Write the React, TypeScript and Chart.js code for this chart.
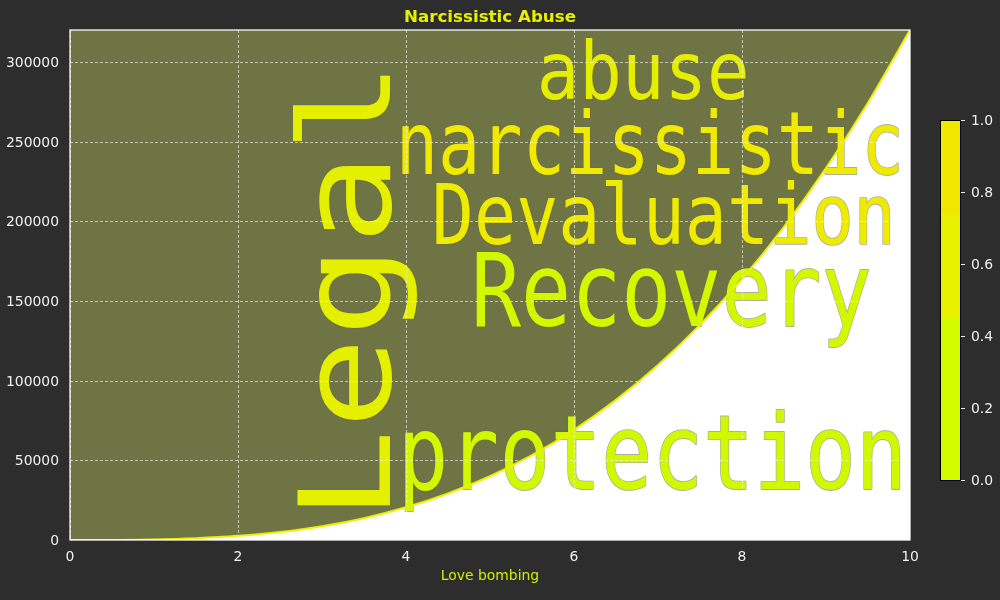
import React, { useEffect, useRef } from "react";
import { Chart, registerables } from "chart.js";

Chart.register(...registerables);

// ---- data ----
const xValues = [0, 0.5, 1, 1.5, 2, 2.5, 3, 3.5, 4, 4.5, 5, 5.5, 6, 6.5, 7, 7.5, 8, 8.5, 9, 9.5, 10];
const yValues = [0, 0, 300, 1100, 2600, 5000, 8600, 13700, 20500, 29200, 40000, 53200, 69100, 87900, 109800, 135000, 163800, 196500, 233300, 274400, 320000];
const xTicks = [0, 2, 4, 6, 8, 10];
const yTicks = [0, 50000, 100000, 150000, 200000, 250000, 300000];
const cbarTicks = [0, 0.2, 0.4, 0.6, 0.8, 1.0];
const cbarBounds = [0, 0.45, 0.742, 1.0];
const cloudWords = ["abuse", "narcissistic", "Devaluation", "Recovery", "protection", "Legal"];

const titleText = "Narcissistic Abuse";
const xLabelText = "Love bombing";

// ---- styles / layout ----
const cbarColors = ["#d2fa00", "#e6f000", "#f0e600"];
const wordColors = ["#e6ee00", "#f0ea00", "#eeeb00", "#d2f800", "#d0f800", "#e4f000"];
const wordLayout = [
  { left: 541, top: 38, right: 746, bottom: 101, rotated: false },
  { left: 402, top: 108, right: 898, bottom: 175, rotated: false },
  { left: 436, top: 180, right: 890, bottom: 245, rotated: false },
  { left: 476, top: 250, right: 869, bottom: 347, rotated: false },
  { left: 405, top: 410, right: 900, bottom: 511, rotated: false },
  { left: 293, top: 75, right: 418, bottom: 506, rotated: true },
];
const BG = "#2d2d2d";
const OLIVE = "#6f7444";
const TEXT = "#f0f0f0";
const FONT = '"DejaVu Sans", sans-serif';

function drawWord(ctx: CanvasRenderingContext2D, text: string, box: any, color: string) {
  ctx.save();
  ctx.font = '100px "DejaVu Sans Mono", monospace';
  ctx.textAlign = "left";
  ctx.textBaseline = "alphabetic";
  const m = ctx.measureText(text);
  const inkW = m.actualBoundingBoxLeft + m.actualBoundingBoxRight;
  const inkH = m.actualBoundingBoxAscent + m.actualBoundingBoxDescent;
  let sx: number, sy: number;
  if (!box.rotated) {
    sx = (box.right - box.left) / inkW;
    sy = (box.bottom - box.top) / inkH;
    ctx.translate(box.left, box.top);
  } else {
    sx = (box.bottom - box.top) / inkW;
    sy = (box.right - box.left) / inkH;
    ctx.translate(box.left, box.bottom);
    ctx.rotate(-Math.PI / 2);
  }
  ctx.scale(sx, sy);
  const avg = (sx + sy) / 2;
  ctx.lineJoin = "round";
  ctx.strokeStyle = "rgba(110,110,70,0.55)";
  ctx.lineWidth = 1.6 / avg;
  ctx.strokeText(text, m.actualBoundingBoxLeft, m.actualBoundingBoxAscent);
  ctx.fillStyle = color;
  ctx.fillText(text, m.actualBoundingBoxLeft, m.actualBoundingBoxAscent);
  ctx.restore();
}

const cloudPlugin = {
  id: "cloud",
  beforeDraw(chart: any) {
    const { ctx, chartArea: a } = chart;
    ctx.save();
    ctx.fillStyle = BG;
    ctx.fillRect(0, 0, chart.width, chart.height);
    ctx.fillStyle = OLIVE;
    ctx.fillRect(a.left, a.top, a.right - a.left, a.bottom - a.top);
    ctx.restore();
  },
  beforeDatasetDraw(chart: any) {
    const { ctx, chartArea: a, scales } = chart;
    ctx.save();
    ctx.beginPath();
    ctx.rect(a.left, a.top, a.right - a.left, a.bottom - a.top);
    ctx.clip();
    cloudWords.forEach((w, i) => drawWord(ctx, w, wordLayout[i], wordColors[i]));
    // grid
    ctx.strokeStyle = "rgba(255,255,255,0.85)";
    ctx.lineWidth = 0.7;
    ctx.setLineDash([3, 2]);
    xTicks.forEach((v) => {
      const px = Math.round(scales.x.getPixelForValue(v)) + 0.5;
      ctx.beginPath();
      ctx.moveTo(px, a.top);
      ctx.lineTo(px, a.bottom);
      ctx.stroke();
    });
    yTicks.forEach((v) => {
      const py = Math.round(scales.y.getPixelForValue(v)) + 0.5;
      ctx.beginPath();
      ctx.moveTo(a.left, py);
      ctx.lineTo(a.right, py);
      ctx.stroke();
    });
    ctx.restore();
  },
  afterDraw(chart: any) {
    const { ctx, chartArea: a } = chart;
    ctx.save();
    // spines
    ctx.strokeStyle = "#ffffff";
    ctx.lineWidth = 1.25;
    ctx.strokeRect(a.left, a.top, a.right - a.left, a.bottom - a.top);
    // title
    const cx = (a.left + a.right) / 2;
    ctx.fillStyle = "#e6f000";
    ctx.font = "bold 16.7px " + FONT;
    ctx.textAlign = "center";
    ctx.textBaseline = "alphabetic";
    ctx.fillText(titleText, cx, 22);
    // x label
    ctx.fillStyle = "#d4ec00";
    ctx.font = "13.9px " + FONT;
    ctx.fillText(xLabelText, cx, 580);
    // colorbar
    const cbL = 940, cbR = 960, cbT = 120, cbB = 480;
    const vy = (v: number) => Math.round(cbB - v * (cbB - cbT));
    for (let i = 0; i < cbarColors.length; i++) {
      ctx.fillStyle = cbarColors[i];
      ctx.fillRect(cbL, vy(cbarBounds[i + 1]), cbR - cbL, vy(cbarBounds[i]) - vy(cbarBounds[i + 1]));
    }
    ctx.strokeStyle = "#000000";
    ctx.lineWidth = 1;
    ctx.strokeRect(cbL + 0.5, cbT + 0.5, cbR - cbL, cbB - cbT);
    ctx.strokeStyle = TEXT;
    ctx.fillStyle = TEXT;
    ctx.font = "13.9px " + FONT;
    ctx.textAlign = "left";
    ctx.textBaseline = "middle";
    cbarTicks.forEach((v) => {
      const py = vy(v) + 0.5;
      ctx.beginPath();
      ctx.moveTo(cbR + 1, py);
      ctx.lineTo(cbR + 5, py);
      ctx.stroke();
      ctx.fillText(v.toFixed(1), cbR + 11, py + 1);
    });
    ctx.restore();
  },
};

export default function App() {
  const ref = useRef<HTMLCanvasElement>(null);
  useEffect(() => {
    if (!ref.current) return;
    const chart = new Chart(ref.current, {
      type: "line",
      data: {
        datasets: [
          {
            data: xValues.map((x, i) => ({ x, y: yValues[i] })),
            borderColor: "#eef000",
            borderWidth: 2,
            backgroundColor: "#ffffff",
            fill: "origin",
            pointRadius: 0,
            cubicInterpolationMode: "monotone",
          },
        ],
      },
      options: {
        responsive: false,
        animation: false,
        layout: { padding: { left: 0, right: 90, top: 30, bottom: 0 } },
        plugins: { legend: { display: false }, title: { display: false }, tooltip: { enabled: false } },
        scales: {
          x: {
            type: "linear",
            min: 0,
            max: 10,
            grid: { display: false, drawTicks: false },
            border: { display: false },
            ticks: { color: TEXT, font: { family: FONT, size: 13.9 }, padding: 9 },
            afterBuildTicks: (s: any) => {
              s.ticks = xTicks.map((v) => ({ value: v }));
            },
            afterFit: (s: any) => {
              s.height = 60;
            },
          },
          y: {
            type: "linear",
            min: 0,
            max: 320000,
            grid: { display: false, drawTicks: false },
            border: { display: false },
            ticks: {
              color: TEXT,
              font: { family: FONT, size: 13.9 },
              padding: 11,
              labelOffset: 1.5,
              callback: (v: any) => String(v),
            },
            afterBuildTicks: (s: any) => {
              s.ticks = yTicks.map((v) => ({ value: v }));
            },
            afterFit: (s: any) => {
              s.width = 70;
            },
          },
        },
      } as any,
      plugins: [cloudPlugin],
    });
    return () => chart.destroy();
  }, []);
  return (
    <div style={{ position: "fixed", left: 0, top: 0, width: 1000, height: 600, background: BG }}>
      <canvas ref={ref} width={1000} height={600} style={{ display: "block" }} />
    </div>
  );
}
